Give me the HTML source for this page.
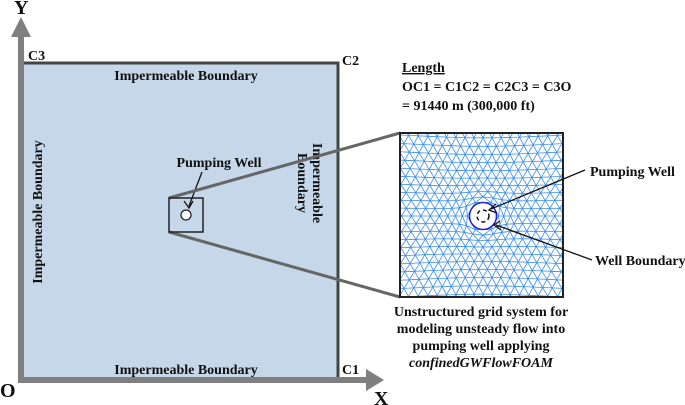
<!DOCTYPE html>
<html><head><meta charset="utf-8"><style>
html,body{margin:0;padding:0;background:#fff;width:685px;height:405px;overflow:hidden}
text{font-family:"Liberation Serif",serif;font-weight:bold;fill:#111}
</style></head><body>
<svg id="s" width="685" height="405" xmlns="http://www.w3.org/2000/svg">
<defs><clipPath id="cp"><rect x="400" y="133" width="163" height="164"/></clipPath></defs>
<rect x="22" y="63" width="316" height="316" fill="#c5d7e8" stroke="#444" stroke-width="3"/>
<line x1="21" y1="383" x2="21" y2="35" stroke="#7f7f7f" stroke-width="6"/>
<polygon points="11,37 31,37 21,17" fill="#7f7f7f"/>
<line x1="18" y1="380" x2="368" y2="380" stroke="#7f7f7f" stroke-width="6"/>
<polygon points="366,369 366,391 384,380" fill="#7f7f7f"/>
<text x="14" y="14" font-size="20">Y</text>
<text x="0" y="397" font-size="20">O</text>
<text x="374" y="405" font-size="20">X</text>
<text x="28" y="60" font-size="14">C3</text>
<text x="342" y="65" font-size="14">C2</text>
<text x="342" y="374" font-size="14">C1</text>
<text x="186" y="80" font-size="14" text-anchor="middle">Impermeable Boundary</text>
<text x="186" y="374" font-size="14" text-anchor="middle">Impermeable Boundary</text>
<text transform="translate(42,212) rotate(-90)" font-size="14" text-anchor="middle">Impermeable Boundary</text>
<text transform="translate(313,183) rotate(90)" font-size="14" text-anchor="middle">Impermeable</text>
<text transform="translate(298,183) rotate(90)" font-size="14" text-anchor="middle">Boundary</text>
<text x="219" y="167" font-size="14" text-anchor="middle">Pumping Well</text>
<line x1="202" y1="172" x2="189" y2="206" stroke="#111" stroke-width="1.3"/>
<polyline points="184,201 189,208 193,201" fill="none" stroke="#111" stroke-width="1.3"/>
<line x1="169" y1="198" x2="400" y2="133" stroke="#666" stroke-width="3"/>
<line x1="169" y1="232" x2="400" y2="297" stroke="#666" stroke-width="3"/>
<rect x="169" y="198" width="34" height="34" fill="none" stroke="#222" stroke-width="1.5"/>
<circle cx="186" cy="215" r="5" fill="#fff" stroke="#222" stroke-width="1.3"/>
<g id="mesh" clip-path="url(#cp)" stroke="#3c8fe8" stroke-width="0.8" fill="none"></g>
<circle cx="483" cy="216" r="13.5" fill="#fff" stroke="#2222dd" stroke-width="1.5"/>
<circle cx="483" cy="216" r="6" fill="none" stroke="#111" stroke-width="1.5" stroke-dasharray="4,3"/>
<rect x="400" y="133" width="163" height="164" fill="none" stroke="#222" stroke-width="2"/>
<line x1="585" y1="170" x2="491" y2="209" stroke="#111" stroke-width="1.3"/>
<polyline points="496,204 489,210 497,213" fill="none" stroke="#111" stroke-width="1.3"/>
<text x="590" y="176" font-size="14">Pumping Well</text>
<line x1="592" y1="260" x2="496" y2="225" stroke="#111" stroke-width="1.3"/>
<polyline points="500,221 494,225 501,230" fill="none" stroke="#111" stroke-width="1.3"/>
<text x="595" y="265" font-size="14">Well Boundary</text>
<text x="402" y="72" font-size="14" text-decoration="underline">Length</text>
<text x="402" y="91" font-size="14">OC1 = C1C2 = C2C3 = C3O</text>
<text x="402" y="110" font-size="14">= 91440 m (300,000 ft)</text>
<text x="481" y="316" font-size="14" text-anchor="middle">Unstructured grid system for</text>
<text x="481" y="333" font-size="14" text-anchor="middle">modeling unsteady flow into</text>
<text x="481" y="350" font-size="14" text-anchor="middle">pumping well applying</text>
<text x="481" y="367" font-size="14" text-anchor="middle" font-style="italic">confinedGWFlowFOAM</text>
</svg>
<script>
(function(){
var g=document.getElementById('mesh'),cx=483,cy=216,h=11,v=h*0.866;
function w(x,y){var dx=x-cx,dy=y-cy,d=Math.sqrt(dx*dx+dy*dy);if(d<0.01)return[cx,cy];
var nd=13.5+d*d/(d+45);var k=nd/d;return[cx+dx*k,cy+dy*k];}
var s='';
for(var j=-16;j<=16;j++)for(var i=-16;i<=16;i++){
var x=cx+i*h+(j%2?h/2:0),y=cy+j*v;
var a=w(x,y);
var nb=[[x+h,y],[x+h/2,y+v],[x-h/2,y+v]];
for(var n=0;n<3;n++){var b=w(nb[n][0],nb[n][1]);
s+='M'+a[0].toFixed(1)+' '+a[1].toFixed(1)+'L'+b[0].toFixed(1)+' '+b[1].toFixed(1);}
}
var p=document.createElementNS('http://www.w3.org/2000/svg','path');p.setAttribute('d',s);g.appendChild(p);
})();
</script>
</body></html>
